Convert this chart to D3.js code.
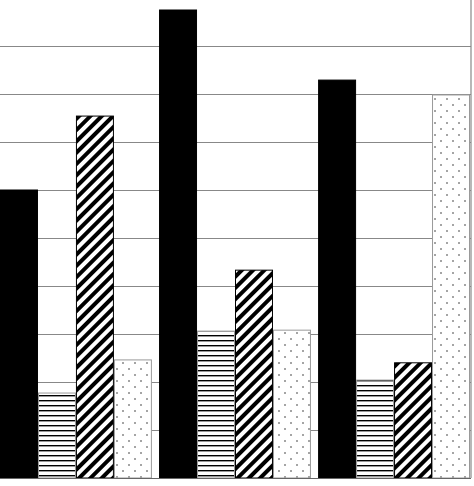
<!DOCTYPE html>
<html><head><meta charset="utf-8">
<script src="https://cdn.jsdelivr.net/npm/d3@7"></script>
<style>body{margin:0;background:#fff}</style></head>
<body><div id="chart"></div>
<script>
const groups = ['A', 'B', 'C']
const seriesNames = ['solid', 'horizontal', 'diagonal', 'dots']
const solid = [6.0, 9.75, 8.29]
const horizontal = [1.77, 3.06, 2.04]
const diagonal = [7.54, 4.33, 2.4]
const dots = [2.46, 3.08, 7.98]
const gridTicks = [1, 2, 3, 4, 5, 6, 7, 8, 9]

const values = [solid, horizontal, diagonal, dots]
const width = 474, height = 486

const svg = d3.select('#chart').append('svg')
    .attr('width', width).attr('height', height)

const defs = svg.append('defs')
const ph = defs.append('pattern').attr('id', 'horizontal')
    .attr('patternUnits', 'userSpaceOnUse').attr('width', 8).attr('height', 5)
ph.append('rect').attr('width', 8).attr('height', 5).attr('fill', '#fff')
ph.append('rect').attr('y', 0).attr('width', 8).attr('height', 1.4).attr('fill', '#000')

const pd = defs.append('pattern').attr('id', 'diagonal')
    .attr('patternUnits', 'userSpaceOnUse').attr('width', 8).attr('height', 8)
    .attr('patternTransform', 'rotate(45)')
pd.append('rect').attr('width', 8).attr('height', 8).attr('fill', '#fff')
pd.append('rect').attr('width', 4).attr('height', 8).attr('fill', '#000')

const pp = defs.append('pattern').attr('id', 'dots')
    .attr('patternUnits', 'userSpaceOnUse').attr('width', 12).attr('height', 12)
pp.append('rect').attr('width', 12).attr('height', 12).attr('fill', '#fff')
pp.append('circle').attr('cx', 3).attr('cy', 3).attr('r', 0.8).attr('fill', '#333')
pp.append('circle').attr('cx', 9).attr('cy', 9).attr('r', 0.8).attr('fill', '#333')

const y = d3.scaleLinear().domain([0, 10]).range([478, -2])
const x0 = d3.scaleBand().domain(groups).range([0, 470]).paddingInner(0.045)
const x1 = d3.scaleBand().domain(seriesNames).range([0, x0.bandwidth()])

svg.append('g').selectAll('line').data(gridTicks).join('line')
    .attr('x1', 0).attr('x2', 471)
    .attr('y1', d => y(d) + 0.5).attr('y2', d => y(d) + 0.5)
    .attr('stroke', '#888').attr('stroke-width', 1.2)

svg.append('line').attr('x1', 471).attr('x2', 471).attr('y1', 0).attr('y2', y(0))
    .attr('stroke', '#888').attr('stroke-width', 1.2)

const fills = {solid: '#000', horizontal: 'url(#horizontal)', diagonal: 'url(#diagonal)', dots: 'url(#dots)'}
const strokes = {solid: '#000', horizontal: '#999', diagonal: '#000', dots: '#999'}

seriesNames.forEach((s, si) => {
    svg.append('g').selectAll('rect').data(values[si]).join('rect')
        .attr('x', (d, i) => x0(groups[i]) + x1(s) + 0.5)
        .attr('y', d => y(d))
        .attr('width', x1.bandwidth() - 1)
        .attr('height', d => y(0) - y(d))
        .attr('fill', fills[s])
        .attr('stroke', strokes[s])
})

svg.append('line').attr('x1', 0).attr('x2', 471).attr('y1', y(0) + 0.5).attr('y2', y(0) + 0.5)
    .attr('stroke', '#666').attr('stroke-width', 1.2)
</script></body></html>
